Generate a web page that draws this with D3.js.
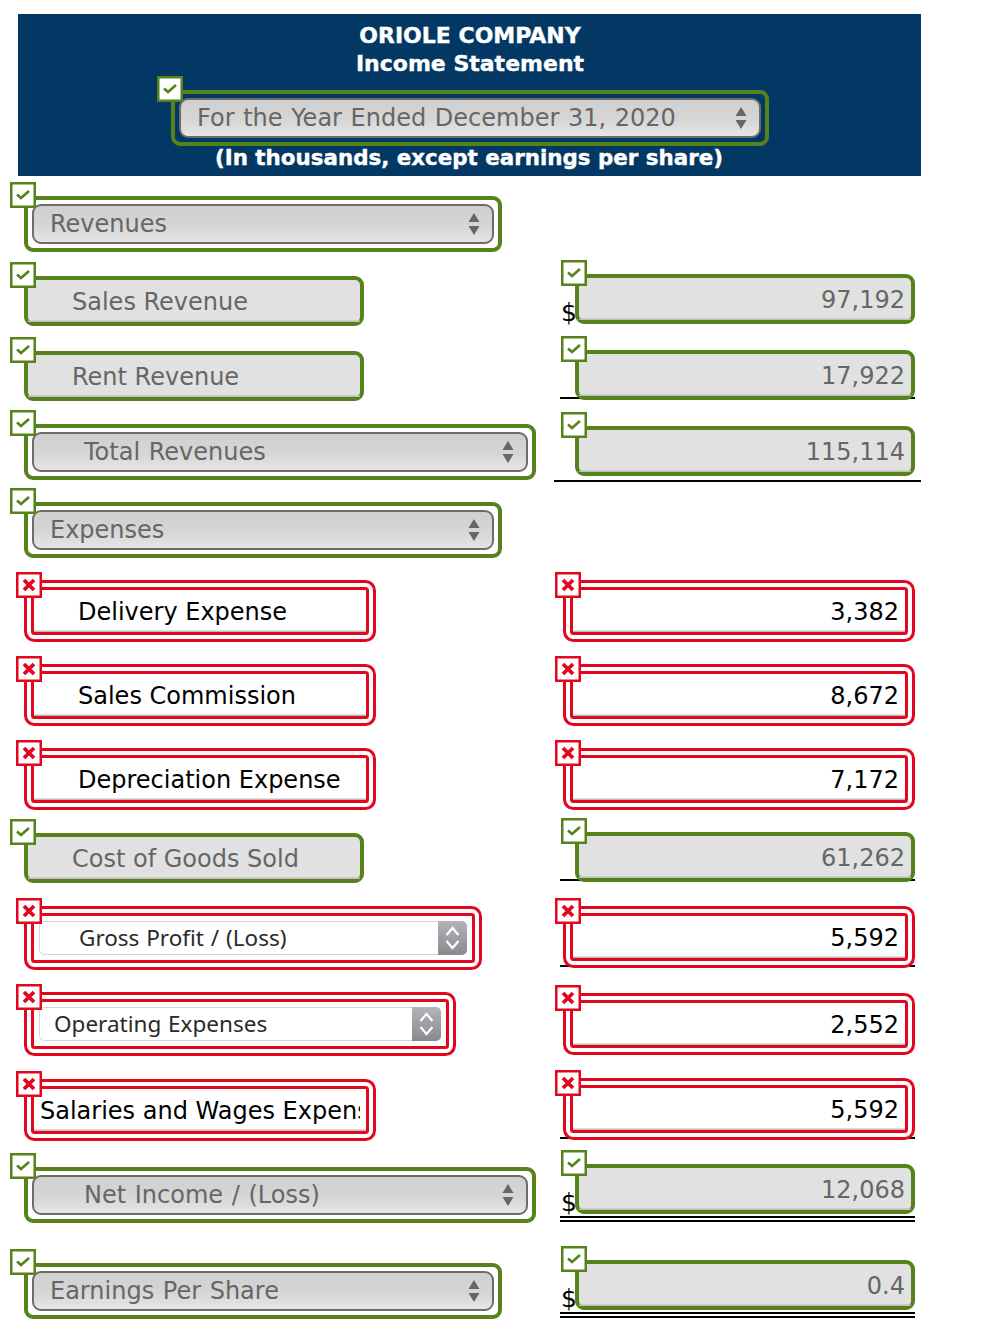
<!DOCTYPE html>
<html lang="en">
<head>
<meta charset="UTF-8">
<title>Oriole Company Income Statement</title>
<style>
    body { margin: 0; background: #fff; }
    svg { display: block; }
    text { font-family: "DejaVu Sans", Verdana, sans-serif; }
    .head { font-weight: bold; stroke: #fff; stroke-width: 0.4px; }
    .menu { font-family: "Noto Sans", sans-serif; word-spacing: 1px; }
    .wide { word-spacing: 1px; }
</style>
</head>
<body>
<div id="chart"></div>
<script src="https://d3js.org/d3.v7.min.js"></script>
<script>
// header text
const titleLines = ["ORIOLE COMPANY", "Income Statement"];
const periodLabel = "For the Year Ended December 31, 2020";
const unitsLine = "(In thousands, except earnings per share)";

// left column: account labels
const leftLabels = ["Revenues", "Sales Revenue", "Rent Revenue", "Total Revenues", "Expenses",
    "Delivery Expense", "Sales Commission", "Depreciation Expense", "Cost of Goods Sold",
    "Gross Profit / (Loss)", "Operating Expenses", "Salaries and Wages Expense",
    "Net Income / (Loss)", "Earnings Per Share"];
const leftCorrect = [1, 1, 1, 1, 1, 0, 0, 0, 1, 0, 0, 0, 1, 1];
const leftKinds = ["select", "input", "input", "select", "select", "input", "input", "input",
    "input", "menu", "menu", "input", "select", "select"];

// right column: amounts
const amounts = ["97,192", "17,922", "115,114", "3,382", "8,672", "7,172", "61,262",
    "5,592", "2,552", "5,592", "12,068", "0.4"];
const amountCorrect = [1, 1, 1, 0, 0, 0, 1, 0, 0, 0, 1, 1];
const amountDollar = [1, 0, 0, 0, 0, 0, 0, 0, 0, 0, 1, 1];
const amountRule = ["none", "single", "thick", "none", "none", "none", "single", "single", "none", "single", "double", "double"];

// layout, row by row
const leftTop = d3.scaleOrdinal(leftLabels, [196, 276, 351, 424, 502, 580, 664, 748, 833, 906, 992, 1079, 1167, 1263]);
const leftRight = d3.scaleOrdinal(leftLabels, [502, 364, 364, 536, 502, 376, 376, 376, 364, 482, 456, 376, 536, 502]);
const leftIndent = d3.scaleOrdinal(leftLabels, [50, 72, 72, 84, 50, 78, 78, 78, 72, 79, 54, 40, 84, 50]);
const amountTop = d3.scaleOrdinal(d3.range(amounts.length), [274, 350, 426, 580, 664, 748, 832, 906, 993, 1078, 1164, 1260]);

const GREEN = "#55831a", RED = "#e2071e", GREY_TEXT = "#666", FONT = 24;

const svg = d3.select("#chart").append("svg").attr("width", 984).attr("height", 1334);
const defs = svg.append("defs");
const grad = defs.append("linearGradient").attr("id", "selGrad").attr("x2", 0).attr("y2", 1);
grad.append("stop").attr("offset", 0).attr("stop-color", "#cfcfcf");
grad.append("stop").attr("offset", 0.55).attr("stop-color", "#d6d6d6");
grad.append("stop").attr("offset", 1).attr("stop-color", "#e6e6e6");
const menuGrad = defs.append("linearGradient").attr("id", "menuGrad").attr("x2", 0).attr("y2", 1);
menuGrad.append("stop").attr("offset", 0).attr("stop-color", "#b5b3b8");
menuGrad.append("stop").attr("offset", 1).attr("stop-color", "#8b898f");

function box(x0, y0, x1, y1, r, stroke, sw, fill) {
    // x0..y1 are outer edges, the stroke sits inside them
    return svg.append("rect")
        .attr("x", x0 + sw / 2).attr("y", y0 + sw / 2)
        .attr("width", x1 - x0 - sw).attr("height", y1 - y0 - sw)
        .attr("rx", r).attr("fill", fill).attr("stroke", stroke).attr("stroke-width", sw);
}

function badge(x, y, ok) {
    const colour = ok ? GREEN : RED;
    box(x, y, x + 26, y + 26, 0, colour, 2.5, "#fff");
    const p = d3.path();
    if (ok) {
        p.moveTo(x + 7, y + 12.5); p.lineTo(x + 11, y + 16); p.lineTo(x + 19, y + 9);
    } else {
        p.moveTo(x + 8, y + 8); p.lineTo(x + 18, y + 18);
        p.moveTo(x + 18, y + 8); p.lineTo(x + 8, y + 18);
    }
    svg.append("path").attr("d", p.toString()).attr("fill", "none").attr("stroke", colour)
        .attr("stroke-width", ok ? 2.6 : 3.8);
}

function label(str, x, y, size, colour, anchor) {
    return svg.append("text").attr("x", x).attr("y", y).attr("font-size", size)
        .attr("fill", colour).attr("text-anchor", anchor || "start").text(str);
}

function updown(x, cy) {
    const p = d3.path();
    p.moveTo(x - 5.5, cy - 2); p.lineTo(x, cy - 11); p.lineTo(x + 5.5, cy - 2); p.closePath();
    p.moveTo(x - 5.5, cy + 2); p.lineTo(x, cy + 11); p.lineTo(x + 5.5, cy + 2); p.closePath();
    svg.append("path").attr("d", p.toString()).attr("fill", "#666");
}

function greySelect(x0, y0, x1, y1) {
    box(x0, y0, x1, y1, 8, "#6c6c6c", 2, "url(#selGrad)");
    updown(x1 - 20, (y0 + y1) / 2);
}

// thin grey edge a text input shows inside its coloured frame
function inputEdge(x0, x1, y) {
    svg.append("rect").attr("x", x0).attr("y", y).attr("width", x1 - x0).attr("height", 1.5).attr("fill", "#bdbdbd");
}

// header band
svg.append("rect").attr("x", 18).attr("y", 14).attr("width", 903).attr("height", 162).attr("fill", "#033864");
titleLines.forEach((t, i) => {
    label(t, 470, 43 + i * 28, 22, "#fff", "middle").attr("class", "head");
});
box(171, 90, 769, 146, 7, GREEN, 4, "none");
greySelect(179, 98, 761, 138);
label(periodLabel, 197, 126, FONT, GREY_TEXT).attr("class", "wide");
badge(157, 76, true);
label(unitsLine, 469, 165, 21.4, "#fff", "middle").attr("class", "head");

// left column
leftLabels.forEach((name, i) => {
    const top = leftTop(name), right = leftRight(name), textX = leftIndent(name);
    const ok = leftCorrect[i], kind = leftKinds[i];
    if (ok) {
        const h = kind === "select" ? 56 : 50;
        box(24, top, right, top + h, 7, GREEN, 4, kind === "select" ? "#fff" : "#e1e1e1");
        if (kind === "select") greySelect(32, top + 8, right - 8, top + 48);
        else inputEdge(28, right - 4, top + h - 5.5);
        label(name, textX, top + (kind === "select" ? 36 : 34), FONT, GREY_TEXT)
            .attr("class", kind === "select" ? "wide" : null);
        badge(10, top - 14, true);
    } else {
        const h = 62 + (kind === "menu" ? 2 : 0);
        box(24, top, right, top + h, 9, RED, 3, "#fff");
        box(31, top + 7, right - 7, top + h - 7, 2, RED, 3, "#fff");
        if (kind === "menu") {
            box(39, top + 15, right - 15, top + 49, 5, "#d4d4d4", 1, "#fff");
            svg.append("path")
                .attr("d", `M${right - 44} ${top + 15}h24a5 5 0 0 1 5 5v24a5 5 0 0 1 -5 5h-24z`)
                .attr("fill", "url(#menuGrad)");
            const c = top + 32, m = right - 29.5;
            svg.append("path")
                .attr("d", `M${m - 6} ${c - 3}L${m} ${c - 10}L${m + 6} ${c - 3}M${m - 6} ${c + 3}L${m} ${c + 10}L${m + 6} ${c + 3}`)
                .attr("fill", "none").attr("stroke", "#fff").attr("stroke-width", 2.2);
            label(name, textX, top + 40, 22.5, "#2a2a2a").attr("class", "menu");
        } else {
            inputEdge(34, right - 10, top + h - 11.5);
            const id = "clip" + i;
            defs.append("clipPath").attr("id", id).append("rect")
                .attr("x", 36).attr("y", top + 7).attr("width", right - 7 - 36 - 9).attr("height", h - 14);
            svg.append("g").attr("clip-path", `url(#${id})`).append("text")
                .attr("x", textX).attr("y", top + 40).attr("font-size", FONT).attr("fill", "#000").text(name);
        }
        badge(16, top - 8, false);
    }
});

// right column
amounts.forEach((value, i) => {
    const top = amountTop(i), ok = amountCorrect[i], bottom = top + (ok ? 50 : 62);
    const rule = amountRule[i];
    const ruleAt = (y, x0, x1) => svg.append("rect").attr("x", x0).attr("y", y)
        .attr("width", x1 - x0).attr("height", 2).attr("fill", "#000");
    if (rule === "single") ruleAt(bottom - 3, 560, 915);
    if (rule === "thick") ruleAt(bottom + 4, 554, 921);
    if (rule === "double") { ruleAt(bottom + 2, 560, 915); ruleAt(bottom + 6, 560, 915); }
    if (amountDollar[i]) label("$", 561, top + 47, 25, "#000");
    if (ok) {
        box(575, top, 915, bottom, 7, GREEN, 4, "#e1e1e1");
        inputEdge(579, 911, bottom - 5.5);
        label(value, 905, top + 34, FONT, GREY_TEXT, "end");
        badge(561, top - 14, true);
    } else {
        box(563, top, 915, bottom, 9, RED, 3, "#fff");
        box(570, top + 7, 908, bottom - 7, 2, RED, 3, "#fff");
        inputEdge(573, 905, bottom - 11.5);
        label(value, 899, top + 40, FONT, "#000", "end");
        badge(555, top - 8, false);
    }
});
</script>
</body>
</html>
